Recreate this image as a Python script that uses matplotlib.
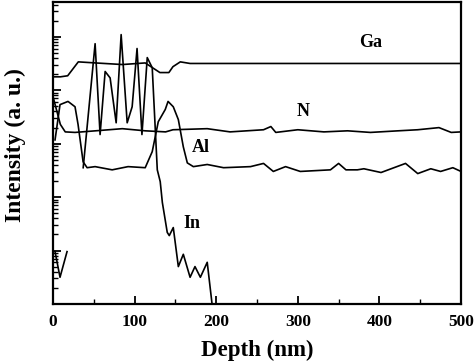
import numpy as np
import matplotlib
matplotlib.use("Agg")
import matplotlib.pyplot as plt
from matplotlib.ticker import LogLocator, NullFormatter, MultipleLocator

# Depth (nm) and log10(intensity)
ga_depth = [0, 9, 18, 31, 52, 85, 113, 122, 131, 142, 147, 156, 168, 200, 250, 300, 350, 400, 450, 500]
ga_log = [4.25, 4.25, 4.27, 4.53, 4.51, 4.48, 4.51, 4.42, 4.33, 4.33, 4.44, 4.53, 4.50, 4.50, 4.50, 4.50, 4.50, 4.50, 4.50, 4.50]

n_depth = [0, 9, 15, 27, 52, 85, 113, 138, 147, 189, 217, 258, 267, 273, 300, 332, 361, 389, 423, 447, 473, 488, 500]
n_log = [3.88, 3.36, 3.22, 3.21, 3.24, 3.28, 3.24, 3.22, 3.26, 3.28, 3.22, 3.26, 3.32, 3.21, 3.26, 3.22, 3.24, 3.21, 3.24, 3.26, 3.30, 3.21, 3.22]

al_depth = [2.5, 8.6, 18.4, 27, 30.7, 36.9, 41.8, 51.6, 72.5, 92, 113, 121.6, 129, 137.6, 141, 147.4, 153.6, 159.7, 164.6, 172, 189, 209,
            242, 258, 270, 285, 303, 340, 350, 359, 373, 381, 402, 432, 447, 463, 475, 490, 500]
al_log = [3.07, 3.73, 3.79, 3.69, 3.36, 2.66, 2.55, 2.57, 2.51, 2.57, 2.55, 2.85, 3.41, 3.64, 3.79, 3.69, 3.45, 2.94, 2.64, 2.57, 2.61, 2.55,
          2.57, 2.63, 2.48, 2.57, 2.48, 2.51, 2.63, 2.51, 2.51, 2.53, 2.46, 2.63, 2.44, 2.53, 2.48, 2.55, 2.48]

in_depth = [37, 51.6, 57.7, 63.9, 70, 77.4, 83.5, 90.9, 97, 103, 109, 115.5, 121.6, 127.8, 131.4, 134, 140, 142.5, 147.4,
            153.6, 159.7, 168, 174, 180.6, 189, 195]
in_log = [2.55, 4.87, 3.17, 4.35, 4.23, 3.39, 5.04, 3.39, 3.69, 4.78, 3.17, 4.61, 4.42, 2.51, 2.29, 1.90, 1.34, 1.28, 1.43,
          0.70, 0.93, 0.50, 0.70, 0.50, 0.78, -0.01]

in2_depth = [2.5, 8.6, 17.2]
in2_log = [0.98, 0.50, 0.98]

labels = ["Ga", "N", "Al", "In"]
label_pos = [(389, 4.89), (306, 3.60), (180.6, 2.93), (170.8, 1.50)]

xticks = [0, 100, 200, 300, 400, 500]

plt.rcParams['font.family'] = ['Liberation Serif', 'DejaVu Serif']
plt.rcParams['font.weight'] = 'bold'

fig = plt.figure(figsize=(4.74, 3.63), dpi=100)
ax = fig.add_axes([53/474, 1 - 304/363, (461 - 53)/474, (304 - 2)/363])

lw = 1.2
for d, l in [(ga_depth, ga_log), (n_depth, n_log), (al_depth, al_log), (in_depth, in_log), (in2_depth, in2_log)]:
    ax.plot(d, 10 ** np.array(l), color='black', lw=lw)

ax.set_yscale('log')
ax.set_xlim(0, 500)
ax.set_ylim(1.0, 10 ** 5.65)

for t, (x, y) in zip(labels, label_pos):
    ax.text(x, 10 ** y, t, ha='center', va='center', fontsize=13, fontweight='bold')

ax.set_xticks(xticks)
ax.set_xticklabels([str(v) for v in xticks])
ax.xaxis.set_minor_locator(MultipleLocator(50))
ax.yaxis.set_major_locator(LogLocator(base=10, numticks=10))
ax.yaxis.set_minor_locator(LogLocator(base=10, subs=np.arange(2, 10), numticks=20))
ax.yaxis.set_major_formatter(NullFormatter())
ax.yaxis.set_minor_formatter(NullFormatter())

ax.tick_params(axis='both', which='major', direction='in', length=6, width=1.3, labelsize=12.5)
ax.tick_params(axis='both', which='minor', direction='in', length=3.5, width=1.0)
ax.tick_params(axis='x', pad=7)
for lab in ax.get_xticklabels():
    lab.set_fontweight('bold')

for s in ax.spines.values():
    s.set_linewidth(1.6)

ax.set_xlabel('Depth (nm)', fontsize=16.5, fontweight='bold', labelpad=7)
ax.set_ylabel('Intensity (a. u.)', fontsize=17, fontweight='bold')
ax.yaxis.set_label_coords(-0.066, 0.525)

fig.savefig('out.png', dpi=100)
